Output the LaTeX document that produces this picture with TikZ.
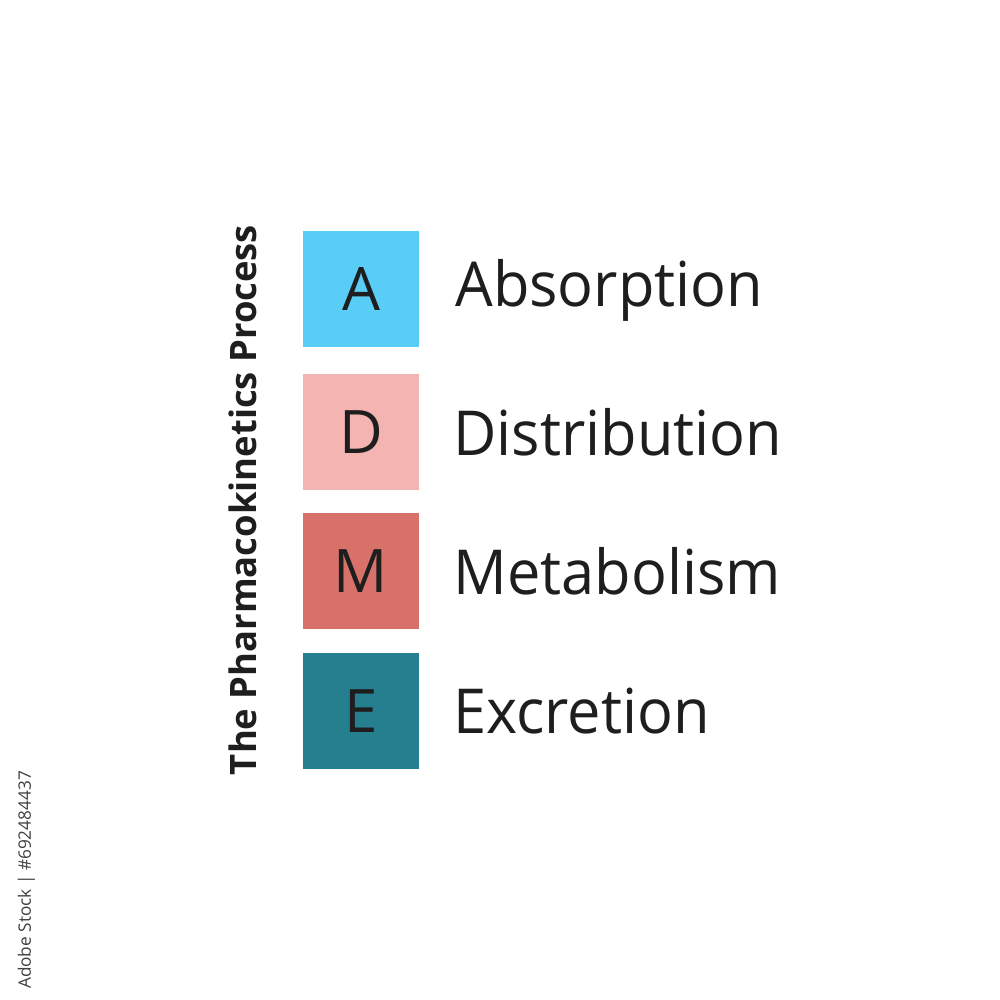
\documentclass[tikz,border=0pt]{standalone}
\usepackage{fontspec}
\setmainfont{Open Sans}
\definecolor{cA}{HTML}{5ACDF6}
\definecolor{cD}{HTML}{F4B5B2}
\definecolor{cM}{HTML}{D8716A}
\definecolor{cE}{HTML}{257F8F}
\definecolor{ink}{HTML}{1E1E1E}
\begin{document}
\begin{tikzpicture}[x=0.5pt,y=-0.5pt,
  box/.style={minimum width=58pt,minimum height=58pt,inner sep=0pt,draw=none},
  letter/.style={font=\fontsize{30}{31}\selectfont,text=ink,anchor=base,inner sep=0pt},
  lab/.style={anchor=base west,inner sep=0pt,xscale=0.96,font=\fontsize{31}{32}\selectfont,text=ink}]
\useasboundingbox[fill=white] (0,0) rectangle (1000,1000);
\node[box,fill=cA] (bA) at (361,289) {};
\node[box,fill=cD] (bD) at (361,432) {};
\node[box,fill=cM] (bM) at (361,571) {};
\node[box,fill=cE] (bE) at (361,711) {};
\node[letter] (lA) at (361,310) {A};
\node[letter] (lD) at (361,453) {D};
\node[letter] (lM) at (361,592) {M};
\node[letter] (lE) at (361,732) {E};
\node[lab] (tA) at (455,306) {Absorption};
\node[lab] (tD) at (453,455) {Distribution};
\node[lab] (tM) at (453,594) {Metabolism};
\node[lab] (tE) at (453,733) {Excretion};
\node[rotate=90,anchor=base,inner sep=0pt,font=\bfseries\fontsize{18.2}{20}\selectfont,text=ink] (title) at (256,500) {The Pharmacokinetics Process};
\node[rotate=90,anchor=base,inner sep=0pt,font=\fontsize{8.6}{10}\selectfont,text=ink!85] (wm) at (31,880) {Adobe Stock | \#692484437};
\end{tikzpicture}
\end{document}
